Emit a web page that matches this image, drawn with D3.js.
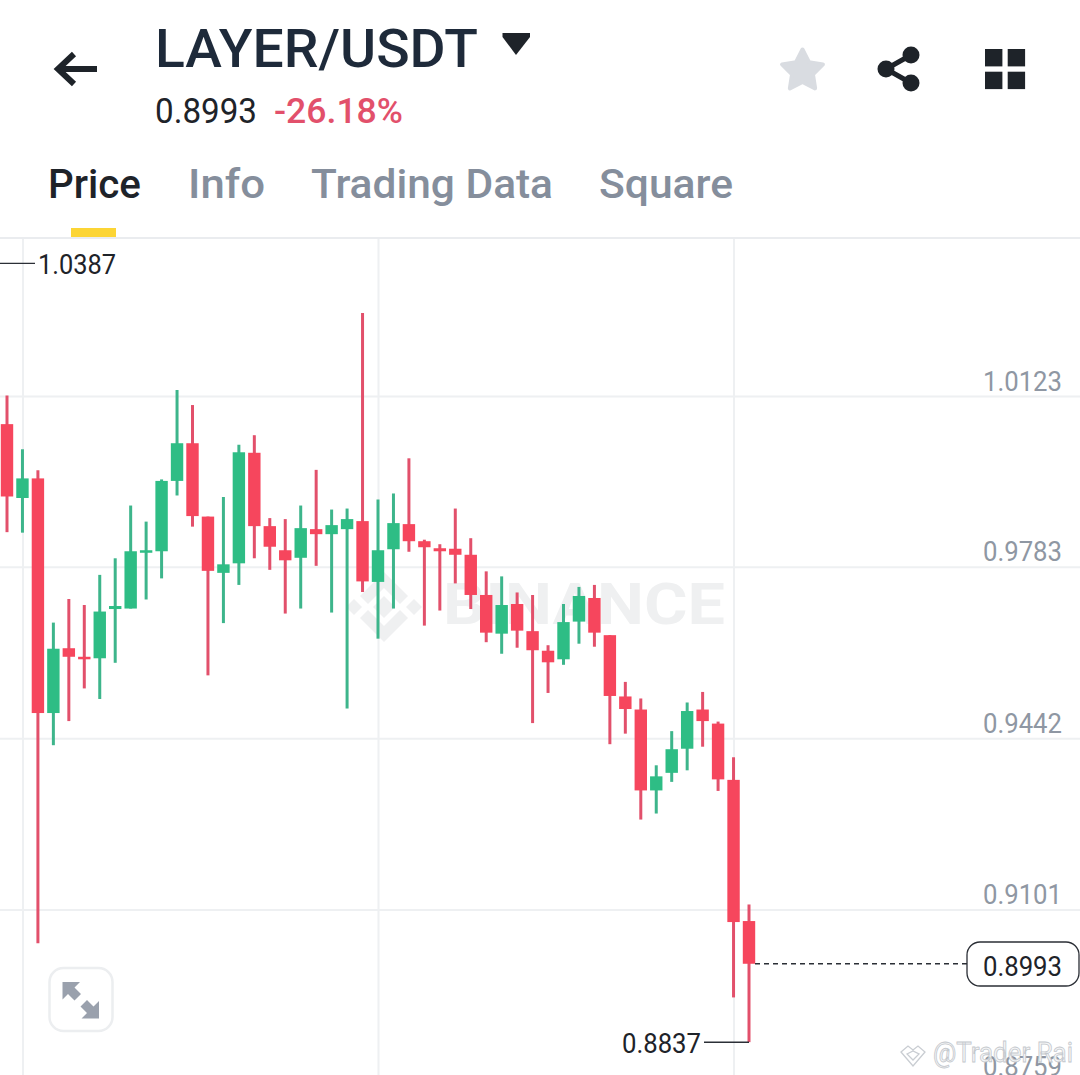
<!DOCTYPE html>
<html><head><meta charset="utf-8">
<script src="https://cdn.jsdelivr.net/npm/d3@7/dist/d3.min.js"></script>
<style>html,body{margin:0;padding:0;background:#fff;overflow:hidden}svg{display:block}text{font-family:Roboto,"Noto Sans",sans-serif}</style>
</head><body><svg id="c" width="1080" height="1075"></svg>
<script>
const opens  = [1.0067,0.9920,0.9959,0.9492,0.9621,0.9604,0.9601,0.9699,0.9700,0.9811,0.9814,0.9954,1.0029,0.9883,0.9771,0.9790,1.0010,0.9864,0.9816,0.9801,0.9858,0.9848,0.9858,0.9874,0.9753,0.9818,0.9868,0.9834,0.9820,0.9819,0.9807,0.9727,0.9650,0.9709,0.9655,0.9616,0.9599,0.9674,0.9721,0.9647,0.9525,0.9499,0.9338,0.9373,0.9421,0.9499,0.9471,0.9359,0.9078];
const closes = [0.9923,0.9959,0.9492,0.9620,0.9604,0.9599,0.9694,0.9705,0.9814,0.9816,0.9954,1.0029,0.9884,0.9775,0.9788,1.0011,0.9864,0.9823,0.9796,0.9860,0.9848,0.9866,0.9878,0.9754,0.9816,0.9870,0.9834,0.9822,0.9814,0.9807,0.9727,0.9652,0.9707,0.9656,0.9617,0.9593,0.9673,0.9725,0.9652,0.9526,0.9500,0.9338,0.9366,0.9420,0.9496,0.9476,0.9360,0.9076,0.8993];
const highs  = [1.0124,1.0017,0.9975,0.9672,0.9719,0.9707,0.9767,0.9800,0.9905,0.9873,0.9957,1.0135,1.0105,0.9883,0.9922,1.0026,1.0045,0.9880,0.9878,0.9905,0.9976,0.9897,0.9899,1.0288,0.9917,0.9929,0.9999,0.9837,0.9828,0.9899,0.9840,0.9774,0.9764,0.9732,0.9727,0.9627,0.9709,0.9743,0.9747,0.9647,0.9554,0.9521,0.9388,0.9456,0.9513,0.9534,0.9475,0.9404,0.9111];
const lows   = [0.9852,0.9851,0.9034,0.9428,0.9476,0.9541,0.9520,0.9592,0.9700,0.9718,0.9760,0.9925,0.9863,0.9567,0.9671,0.9747,0.9800,0.9777,0.9690,0.9700,0.9785,0.9692,0.9501,0.9733,0.9640,0.9700,0.9813,0.9666,0.9696,0.9750,0.9699,0.9633,0.9610,0.9622,0.9472,0.9532,0.9588,0.9630,0.9624,0.9430,0.9451,0.9280,0.9292,0.9355,0.9378,0.9425,0.9337,0.8926,0.8837];
const priceTicks = [1.0123,0.9783,0.9442,0.9101,0.8759];
const timeTicks = [1,24,47];
const pairName = "LAYER/USDT";
const lastPrice = 0.8993, changeLabel = "-26.18%";
const periodHigh = 1.0387, periodLow = 0.8837;
const tabLabels = ["Price","Info","Trading Data","Square"];

const UP="#2ebd85", DOWN="#f6465d", UPW="#3db58b", DOWNW="#e2506b", GRID="#eef0f2", DARK="#1e2329", GREY="#858e9c", AXISC="#8f97a3";
const svg=d3.select("#c");
const x=d3.scaleLinear().domain([0,48]).range([7,749]);
const y=d3.scaleLinear().domain([1.0123,0.9101]).range([396,909.5]);

function label(t,xp,base,size,len,fill,extra){
  const e=svg.append("text").attr("x",xp).attr("y",base).attr("font-size",size).attr("fill",fill).text(t);
  if(len) e.attr("textLength",len).attr("lengthAdjust","spacingAndGlyphs");
  if(extra) extra(e);
  return e;
}

// grid + price axis
const yAxis=d3.axisRight(y).tickValues(priceTicks).tickFormat(d3.format(".4f")).tickSize(-1080);
const yg=svg.append("g").attr("transform","translate(1080,0)").call(yAxis);
yg.select(".domain").remove();
yg.selectAll(".tick line").attr("stroke",GRID).attr("stroke-width",2);
yg.selectAll(".tick text").attr("x",-97).attr("dy",0).attr("y",-6).attr("text-anchor","start")
  .attr("font-size",28).attr("fill",AXISC).attr("textLength",79).attr("lengthAdjust","spacingAndGlyphs");
yg.attr("font-family",null).attr("font-size",null);
const xAxis=d3.axisBottom(x).tickValues(timeTicks).tickFormat("").tickSize(-837);
const xg=svg.append("g").attr("transform","translate(0,1075)").call(xAxis);
xg.select(".domain").remove();
xg.selectAll(".tick line").attr("stroke",GRID).attr("stroke-width",2);
svg.append("rect").attr("x",0).attr("y",237).attr("width",1080).attr("height",2).attr("fill","#eaecef");

// watermark
const wm="#eff0f1";
const logo=svg.append("g").attr("fill",wm).attr("transform","translate(384,607)");
logo.append("path").attr("d","M0,-11L11,0L0,11L-11,0Z");
logo.append("path").attr("d","M-30,-8L-22,0L-30,8L-38,0Z");
logo.append("path").attr("d","M30,-8L38,0L30,8L22,0Z");
logo.append("path").attr("d","M0,-35L24,-11L16,-3L0,-19L-16,-3L-24,-11Z");
logo.append("path").attr("d","M0,35L24,11L16,3L0,19L-16,3L-24,11Z");
label("BINANCE",443,624,57,282,wm,e=>e.attr("font-weight",700));

// candles
const idx=d3.range(opens.length);
const isUp=i=>closes[i]>opens[i];
svg.append("g").selectAll("line").data(idx).join("line")
  .attr("x1",i=>x(i)).attr("x2",i=>x(i)).attr("y1",i=>y(highs[i])).attr("y2",i=>y(lows[i]))
  .attr("stroke",i=>isUp(i)?UPW:DOWNW).attr("stroke-width",3);
svg.append("g").selectAll("rect").data(idx).join("rect")
  .attr("x",i=>x(i)-6.2).attr("width",12.4)
  .attr("y",i=>y(Math.max(opens[i],closes[i])))
  .attr("height",i=>Math.max(2.5,Math.abs(y(opens[i])-y(closes[i]))))
  .attr("fill",i=>isUp(i)?UP:DOWN);

// price markers
svg.append("line").attr("x1",0).attr("x2",35).attr("y1",y(periodHigh)).attr("y2",y(periodHigh)).attr("stroke","#2b2f36").attr("stroke-width",1.3);
label(d3.format(".4f")(periodHigh),38,274,28,78,DARK);
svg.append("line").attr("x1",704).attr("x2",749).attr("y1",y(periodLow)).attr("y2",y(periodLow)).attr("stroke","#2b2f36").attr("stroke-width",1.5);
label(d3.format(".4f")(periodLow),622,1053,28,79,DARK);
svg.append("line").attr("x1",755).attr("x2",967).attr("y1",y(lastPrice)).attr("y2",y(lastPrice)).attr("stroke","#2b2f36").attr("stroke-width",1.3).attr("stroke-dasharray","5 4");
svg.append("rect").attr("x",967).attr("y",942).attr("width",112).attr("height",44).attr("rx",13).attr("fill","#fff").attr("stroke","#2b2f36").attr("stroke-width",1.3);
label(d3.format(".4f")(lastPrice),983,976,28,79,DARK);

// header
const nav="#1e2a3a";
svg.append("path").attr("d","M97,69H58M74,54L58,69L74,84").attr("fill","none").attr("stroke",DARK).attr("stroke-width",6);
label(pairName,155,67,54,323,nav,e=>e.attr("font-weight",500));
svg.append("path").attr("d","M502.5,33H530V37L516,55L502.5,37Z").attr("fill",DARK);
label(d3.format(".4f")(lastPrice),155,123,35,102,DARK);
label(changeLabel,274,123,35,129,"#e2506b",e=>e.attr("font-weight",500));
const tabX=[48,188,311,599], tabW=[93,77,242,134];
tabLabels.forEach((t,i)=>label(t,tabX[i],198,41,tabW[i],i?GREY:DARK,e=>e.attr("font-weight",500)));
svg.append("rect").attr("x",71).attr("y",228).attr("width",45).attr("height",9).attr("fill","#fcd535");

// icons
const star=d3.range(10).map(i=>{const r=i%2?11:21.5,a=-Math.PI/2+i*Math.PI/5;return [802.5+r*Math.cos(a),71+r*Math.sin(a)];});
svg.append("path").attr("d",d3.line()(star)+"Z").attr("fill","#d9dce1").attr("stroke","#d9dce1").attr("stroke-width",4).attr("stroke-linejoin","round");
svg.append("path").attr("d","M911,55L886,69L911,83").attr("fill","none").attr("stroke",DARK).attr("stroke-width",5);
[[911,55],[886,69],[911,83]].forEach(p=>svg.append("circle").attr("cx",p[0]).attr("cy",p[1]).attr("r",8.5).attr("fill",DARK));
[[985,49],[1007.7,49],[985,71.7],[1007.7,71.7]].forEach(p=>svg.append("rect").attr("x",p[0]).attr("y",p[1]).attr("width",17.4).attr("height",17.4).attr("fill",DARK));

// expand button
svg.append("rect").attr("x",49.5).attr("y",968).attr("width",63).attr("height",63).attr("rx",14).attr("fill","#fff").attr("stroke","#eceef0").attr("stroke-width",2.5);
svg.append("path").attr("d","M62.5,982H80L74.5,987.5L81,994L74.5,1000.5L68,994L62.5,999.5Z").attr("fill","#9aa1ad");
svg.append("path").attr("d","M99,1018.5H81.5L87,1013L80.5,1006.5L87,1000L93.5,1006.5L99,1001Z").attr("fill","#9aa1ad");

// author watermark
svg.append("path").attr("d","M901,1052L908,1046L913,1050L918,1046L925,1052L913,1066ZM907,1054L913,1051L919,1054L913,1060Z").attr("fill","none").attr("stroke","#c9cdd2").attr("stroke-width",1.3);
label("@Trader Rai",933,1062,27,140,"#f4f5f6",e=>e.attr("stroke","#c4c8cd").attr("stroke-width",0.8));
</script></body></html>
